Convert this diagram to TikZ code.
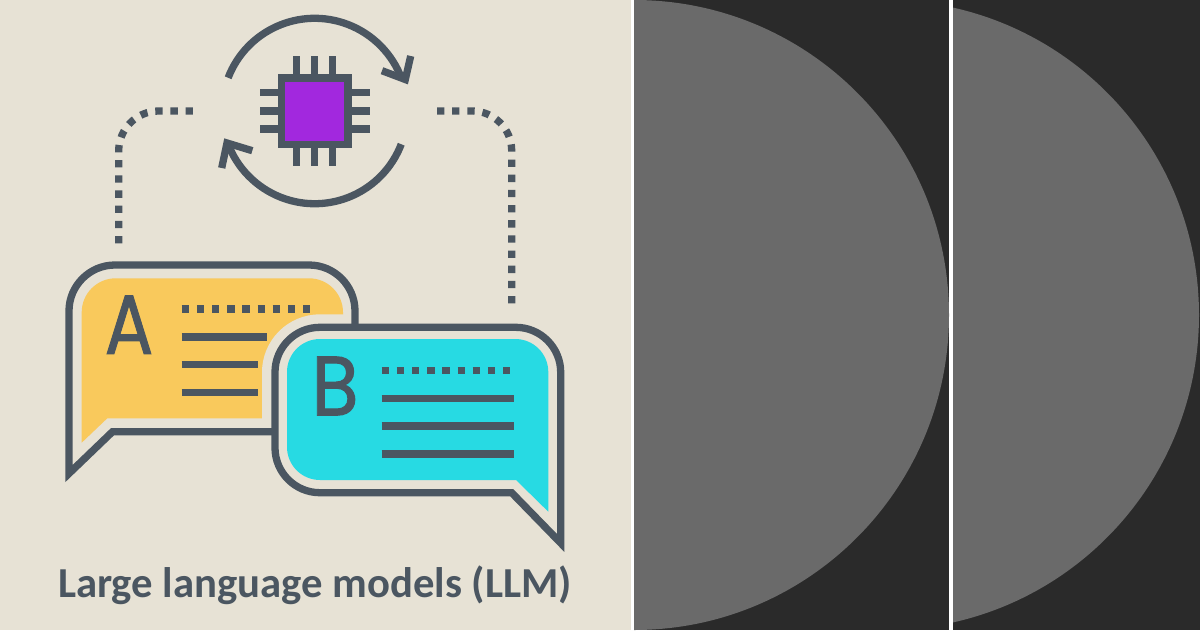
\documentclass[tikz,border=0pt]{standalone}
\usepackage{fontspec}
\setmainfont{Carlito}
\newfontfamily\iconfont[FakeBold=1.2]{Poppins}
\definecolor{inkc}{HTML}{4B5661}
\definecolor{bgc}{HTML}{E7E2D5}
\definecolor{yellowc}{HTML}{F9C95C}
\definecolor{cyanc}{HTML}{27DAE3}
\definecolor{purplec}{HTML}{A228DE}
\definecolor{darkc}{HTML}{2A2A2A}
\definecolor{greyc}{HTML}{6A6A6A}
\tikzset{
  ink/.style={draw=inkc,line width=7.3pt},
  dots/.style={ink,dash pattern=on 7.3pt off 7.87pt},
  letter/.style={text=inkc,inner sep=0pt,font=\iconfont\fontsize{84}{84}\selectfont},
}

\begin{document}
\begin{tikzpicture}[x=1pt,y=-1pt]
  \useasboundingbox (0,0) rectangle (1200,630);
  \fill[white] (0,0) rectangle (1200,630);
  \fill[bgc] (0,0) rectangle (631,630);
  % right hand panels
  \fill[darkc] (634,0) rectangle (949,630);
  \fill[darkc] (953,0) rectangle (1200,630);
  \begin{scope}
    \clip (634,0) rectangle (949,630);
    \fill[greyc] (634,315) circle[radius=315pt];
  \end{scope}
  \begin{scope}
    \clip (953,0) rectangle (1200,630);
    \fill[greyc] (884,315) circle[radius=315pt];
  \end{scope}
  % chip
  \coordinate (chipc) at (314.7,111);
  \draw[ink,fill=purplec] (281.7,78) rectangle (348,144.5);
  \foreach \px in {296.7,314.7,332.7} {
    \draw[ink] (\px,56) -- (\px,75);
    \draw[ink] (\px,147.5) -- (\px,166);
  }
  \foreach \py in {92.7,111,129} {
    \draw[ink] (260,\py) -- (278,\py);
    \draw[ink] (351,\py) -- (370,\py);
  }
  % arrows round the chip
  \draw[ink] (chipc) ++(159:92.7pt) arc[start angle=159,end angle=20,radius=92.7pt];
  \draw[ink,miter limit=10] (410.7,56) -- (405.3,79.5) -- (382,70.7);
  \draw[ink] (chipc) ++(-21:92.7pt) arc[start angle=-21,end angle=-160,radius=92.7pt];
  \draw[ink,miter limit=10] (221.7,168) -- (227,143) -- (252.3,150.7);
  % dotted links
  \draw[dots] (118.7,243.3) -- (118.7,151) arc[start angle=180,end angle=90,radius=40pt] -- (193,111);
  \draw[dots] (437,111) -- (472,111) arc[start angle=90,end angle=0,radius=39.7pt] -- (511.7,304.5);
  % bubble A
  \fill[yellowc,rounded corners=34pt] (81.7,442.7) -- (81.7,278.3) -- (343,278.3) -- (343,418.3) [sharp corners] -- (107.3,418.3) -- cycle;
  \draw[bgc,line width=26pt,fill=bgc,rounded corners=45pt] (511.7,492.7) -- (275,492.7) -- (275,327.3) -- (560.7,327.3) -- (560.7,420);
  \draw[ink,rounded corners=46pt] (275,431.7) [sharp corners] -- (112.5,431.7) -- (69,473.5) [rounded corners=46pt] -- (69,265) -- (355,265) -- (355,327.3);
  \node[letter] (lettera) at (129,324.7) {\scalebox{0.86}[1]{A}};
  \draw[dots] (181.7,309) -- (310,309);
  \draw[ink] (181.7,337) -- (267,337);
  \draw[ink] (181.7,364.7) -- (258,364.7);
  \draw[ink] (181.7,392.7) -- (258,392.7);
  % bubble B
  \fill[cyanc,rounded corners=33pt] (516,480) -- (287,480) -- (287,339) -- (548.3,339) [sharp corners] -- (548.3,511.7) -- cycle;
  \draw[ink,rounded corners=45pt] (511.7,492.7) -- (275,492.7) -- (275,327.3) -- (560.7,327.3) [sharp corners] -- (560.7,543) -- cycle;
  \node[letter] (letterb) at (335,386) {\scalebox{0.92}[1]{B}};
  \draw[dots] (381.7,370.7) -- (510,370.7);
  \draw[ink] (381.7,398.3) -- (513.7,398.3);
  \draw[ink] (381.7,426) -- (513.7,426);
  \draw[ink] (381.7,454) -- (513.7,454);
  % caption
  \node[text=inkc,anchor=base,inner sep=0pt,font=\fontsize{42.7}{46}\selectfont\bfseries] (caption) at (315,597) {Large language models (LLM)};
\end{tikzpicture}
\end{document}
